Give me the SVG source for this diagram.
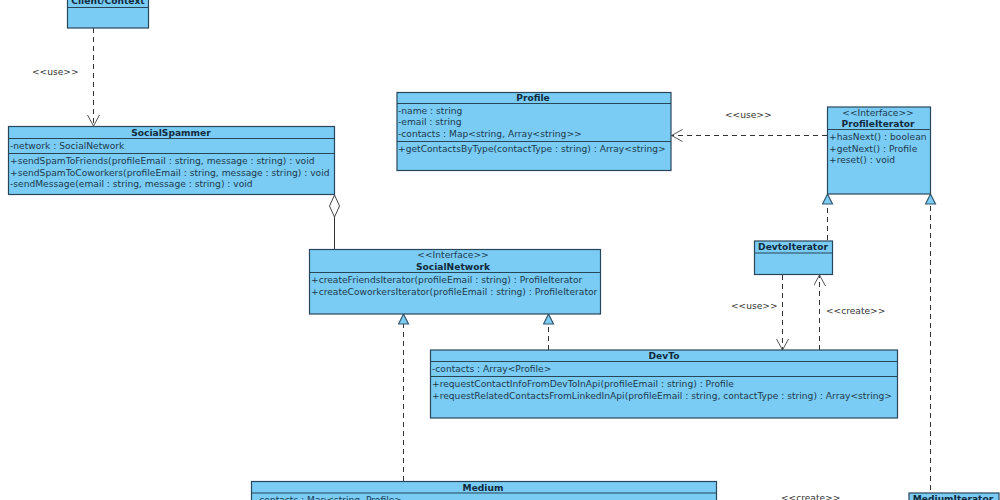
<svg xmlns="http://www.w3.org/2000/svg" width="1000" height="500" viewBox="0 0 1000 500">
<defs>
<marker id="open" markerWidth="14" markerHeight="14" refX="11" refY="6" orient="auto" markerUnits="userSpaceOnUse"><path d="M0 0L11 6L0 12" fill="none" stroke="#555" stroke-width="1"/></marker>
<marker id="tri" markerWidth="14" markerHeight="14" refX="11" refY="6" orient="auto" markerUnits="userSpaceOnUse"><path d="M1 1L11 6L1 11Z" fill="#7accf5" stroke="#35566b" stroke-width="1.2"/></marker>
</defs>
<style>
text{font-family:"DejaVu Sans",sans-serif;font-size:9.15px;fill:#1c3a4e}
.box{fill:#7accf5;stroke:#27465a;stroke-width:1.2}
.sep{stroke:#27465a;stroke-width:1;fill:none}
.t{font-weight:bold;text-anchor:middle;fill:#0f2a3d;font-size:9.1px}
.c{text-anchor:middle}
.lab{fill:#333;font-size:9.1px}
.dash{fill:none;stroke:#333;stroke-width:1;stroke-dasharray:5 4}
.solid{fill:none;stroke:#333;stroke-width:1}
</style>
<rect width="1000" height="500" fill="#fff"/>
<g id="connectors">
<path class="dash" d="M93.500 28V126" marker-end="url(#open)"/>
<text class="lab" x="32" y="75">&lt;&lt;use&gt;&gt;</text>
<path class="solid" d="M334.500 214V249"/>
<path d="M334.500 195L339.500 206L334.500 217L329.500 206Z" fill="#fff" stroke="#444" stroke-width="1"/>
<path class="dash" d="M827 135.500H671.500" marker-end="url(#open)"/>
<text class="lab" x="725" y="118">&lt;&lt;use&gt;&gt;</text>
<path class="dash" d="M827.500 240V194" marker-end="url(#tri)"/>
<path class="dash" d="M930.500 490V194" marker-end="url(#tri)"/>
<path class="dash" d="M782.500 275V350" marker-end="url(#open)"/>
<text class="lab" x="731" y="309">&lt;&lt;use&gt;&gt;</text>
<path class="dash" d="M819.500 350V275" marker-end="url(#open)"/>
<text class="lab" x="826" y="314">&lt;&lt;create&gt;&gt;</text>
<path class="dash" d="M403.500 481V314" marker-end="url(#tri)"/>
<path class="dash" d="M548.500 350V314" marker-end="url(#tri)"/>
<text class="lab" x="781" y="501">&lt;&lt;create&gt;&gt;</text>
</g>
<g id="ClientContext">
<rect class="box" x="67.500" y="-10" width="81" height="38"/>
<path class="sep" d="M67.500 7.500H148.500"/>
<text class="t" x="108" y="4">Client/Context</text>
</g>
<g id="SocialSpammer">
<rect class="box" x="8.500" y="126.500" width="326" height="68"/>
<path class="sep" d="M8.500 138.500H334.500M8.500 153.500H334.500"/>
<text class="t" x="171" y="136">SocialSpammer</text>
<text x="10" y="149">-network : SocialNetwork</text>
<text x="10" y="164">+sendSpamToFriends(profileEmail : string, message : string) : void</text>
<text x="10" y="175.500">+sendSpamToCoworkers(profileEmail : string, message : string) : void</text>
<text x="10" y="187">-sendMessage(email : string, message : string) : void</text>
</g>
<g id="Profile">
<rect class="box" x="397" y="92.500" width="274" height="78"/>
<path class="sep" d="M397 103.500H671M397 141.500H671"/>
<text class="t" x="533" y="101">Profile</text>
<text x="398" y="114">-name : string</text>
<text x="398" y="125">-email : string</text>
<text x="398" y="137">-contacts : Map&lt;string, Array&lt;string&gt;&gt;</text>
<text x="398" y="152">+getContactsByType(contactType : string) : Array&lt;string&gt;</text>
</g>
<g id="ProfileIterator">
<rect class="box" x="827.500" y="107" width="103" height="87"/>
<path class="sep" d="M827.500 129.500H930.500"/>
<text class="c" x="878" y="116">&lt;&lt;Interface&gt;&gt;</text>
<text class="t" x="878" y="127">ProfileIterator</text>
<text x="829" y="140">+hasNext() : boolean</text>
<text x="829" y="152">+getNext() : Profile</text>
<text x="829" y="163">+reset() : void</text>
</g>
<g id="DevtoIterator">
<rect class="box" x="754.500" y="241" width="78" height="33.500"/>
<path class="sep" d="M754.500 253H832.500"/>
<text class="t" x="793" y="250">DevtoIterator</text>
</g>
<g id="SocialNetwork">
<rect class="box" x="309.500" y="249.500" width="291" height="64.500"/>
<path class="sep" d="M309.500 272.500H600.500"/>
<text class="c" x="453" y="258">&lt;&lt;Interface&gt;&gt;</text>
<text class="t" x="453" y="270">SocialNetwork</text>
<text x="311" y="283">+createFriendsIterator(profileEmail : string) : ProfileIterator</text>
<text x="311" y="295">+createCoworkersIterator(profileEmail : string) : ProfileIterator</text>
</g>
<g id="DevTo">
<rect class="box" x="430.500" y="350" width="467" height="68"/>
<path class="sep" d="M430.500 361.500H897.500M430.500 376.500H897.500"/>
<text class="t" x="664" y="359">DevTo</text>
<text x="432" y="372">-contacts : Array&lt;Profile&gt;</text>
<text x="432" y="387">+requestContactInfoFromDevToInApi(profileEmail : string) : Profile</text>
<text x="432" y="399">+requestRelatedContactsFromLinkedInApi(profileEmail : string, contactType : string) : Array&lt;string&gt;</text>
</g>
<g id="Medium">
<rect class="box" x="251.500" y="481.500" width="465" height="30"/>
<path class="sep" d="M251.500 493H716.500"/>
<text class="t" x="483" y="490.500">Medium</text>
<text x="256" y="503">-contacts : Map&lt;string, Profile&gt;</text>
</g>
<g id="MediumIterator">
<rect class="box" x="909" y="493" width="90" height="20"/>
<text class="t" x="953" y="502">MediumIterator</text>
</g>
</svg>
